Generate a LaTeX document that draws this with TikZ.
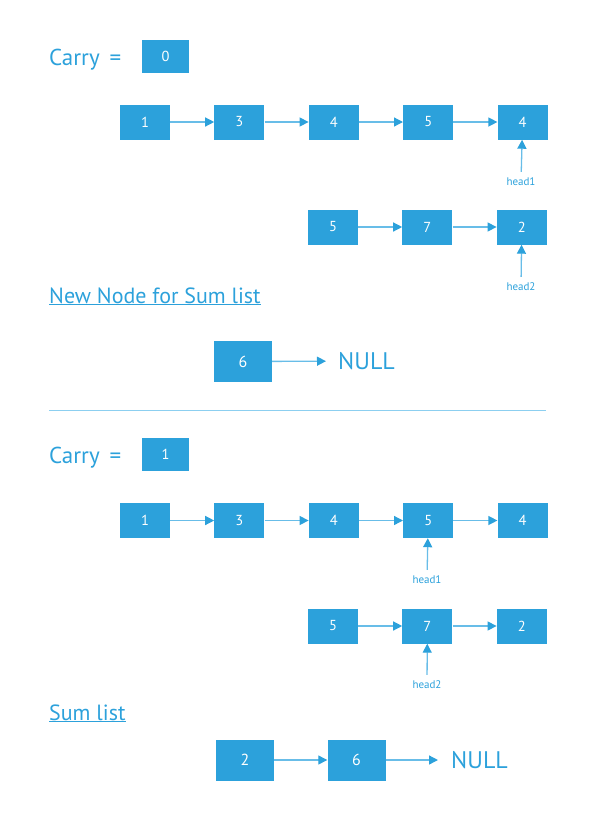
\documentclass[tikz,border=0pt]{standalone}
\usepackage{fontspec}
\setmainfont{PT Sans}
\usetikzlibrary{arrows.meta,positioning}
\definecolor{llblue}{RGB}{44,161,219}
\definecolor{lllink}{RGB}{104,189,232}
\definecolor{llsep}{RGB}{140,207,240}
\tikzset{
  llnode/.style={rectangle, minimum width=50pt, minimum height=35pt, inner sep=0pt,
    fill=llblue, text=white, font=\fontsize{14.5}{14.5}\selectfont},
  carrynode/.style={llnode, minimum width=47pt, minimum height=33pt},
  sumnode/.style={llnode, minimum width=58pt, minimum height=41pt, font=\fontsize{16}{16}\selectfont},
  llarrow/.style={-{Triangle[length=9pt,width=9pt,color=llblue]}, draw=lllink, line width=1.3pt},
  headlbl/.style={anchor=base, inner sep=5pt, text=llblue, font=\fontsize{11}{11}\selectfont},
  lltitle/.style={anchor=base west, inner sep=0pt, text=llblue, font=\fontsize{22}{22}\selectfont},
  nulltext/.style={anchor=west, inner sep=0pt, text=llblue, font=\fontsize{24}{24}\selectfont}
}
\begin{document}
\begin{tikzpicture}[x=1pt,y=-1pt,node distance=44pt]
\useasboundingbox (0,0) rectangle (595,820);
% step 1: carry 0
\node[lltitle, font=\fontsize{23}{23}\selectfont] (carryA) at (49,65) {Carry\hspace{10pt}=};
\node[carrynode] (cA) at (165.5,56.5) {0};
\node[llnode] (a1) at (145,122) {1};
\node[llnode, right=of a1] (a2) {3};
\node[llnode, right=of a2] (a3) {4};
\node[llnode, right=of a3] (a4) {5};
\node[llnode, right=of a4] (a5) {4};
\node[llnode] (b1) at (333,227) {5};
\node[llnode, right=of b1] (b2) {7};
\node[llnode, right=of b2] (b3) {2};
\node[headlbl] (h1A) at (521,185) {head1};
\node[headlbl] (h2A) at (521,290) {head2};
\draw[llarrow] (a1) -- (a2);
\draw[llarrow] (a2) -- (a3);
\draw[llarrow] (a3) -- (a4);
\draw[llarrow] (a4) -- (a5);
\draw[llarrow] (b1) -- (b2);
\draw[llarrow] (b2) -- (b3);
\draw[llarrow] (h1A) -- (a5);
\draw[llarrow] (h2A) -- (b3);
\node[lltitle] (newA) at (49,303) {\underline{New Node for Sum list}};
\node[sumnode] (s6) at (243,361.5) {6};
\node[nulltext] (nullA) at (338,361) {NULL};
\draw[llarrow, shorten >=12pt] (s6) -- (nullA);
% separator
\draw[llsep, line width=1pt] (49,410) -- (546,410);
% step 2: carry 1
\node[lltitle, font=\fontsize{23}{23}\selectfont] (carryB) at (49,463) {Carry\hspace{10pt}=};
\node[carrynode] (cB) at (165.5,454.5) {1};
\node[llnode] (c1) at (145,520.5) {1};
\node[llnode, right=of c1] (c2) {3};
\node[llnode, right=of c2] (c3) {4};
\node[llnode, right=of c3] (c4) {5};
\node[llnode, right=of c4] (c5) {4};
\node[llnode] (d1) at (333,626) {5};
\node[llnode, right=of d1] (d2) {7};
\node[llnode, right=of d2] (d3) {2};
\node[headlbl] (h1B) at (427,583) {head1};
\node[headlbl] (h2B) at (427,688) {head2};
\draw[llarrow] (c1) -- (c2);
\draw[llarrow] (c2) -- (c3);
\draw[llarrow] (c3) -- (c4);
\draw[llarrow] (c4) -- (c5);
\draw[llarrow] (d1) -- (d2);
\draw[llarrow] (d2) -- (d3);
\draw[llarrow] (h1B) -- (c4);
\draw[llarrow] (h2B) -- (d2);
\node[lltitle] (sumB) at (49,720) {\underline{Sum list}};
\node[sumnode] (t1) at (245,760) {2};
\node[sumnode] (t2) at (356.5,760) {6};
\node[nulltext] (nullB) at (451,760) {NULL};
\draw[llarrow] (t1) -- (t2);
\draw[llarrow, shorten >=13pt] (t2) -- (nullB);
\end{tikzpicture}
\end{document}
